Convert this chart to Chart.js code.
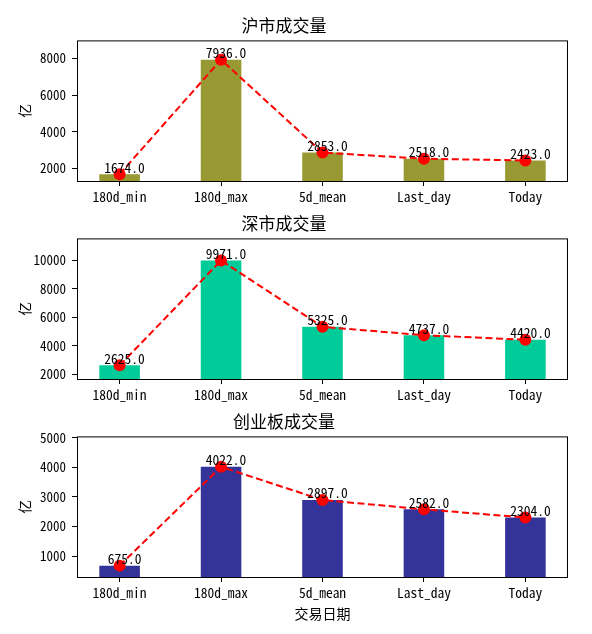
<!DOCTYPE html>
<html>
<head>
<meta charset="utf-8">
<script src="https://cdn.jsdelivr.net/npm/chart.js@4.4.1/dist/chart.umd.min.js"></script>
<style>
    html, body { margin: 0; padding: 0; background: #FFFFFF; }
    #wrap { position: relative; width: 592px; height: 634px; overflow: hidden; }
    .box { position: absolute; left: 0; width: 592px; }
</style>
</head>
<body>
<div id="wrap">
    <div class="box" style="top:0px;height:209px"><canvas id="c1"></canvas></div>
    <div class="box" style="top:198px;height:209px"><canvas id="c2"></canvas></div>
    <div class="box" style="top:396px;height:238px"><canvas id="c3"></canvas></div>
</div>
<script>
// Category labels (x axis)
const categories = ['180d_min', '180d_max', '5d_mean', 'Last_day', 'Today'];

// Volumes, 亿
const shVolume = [1674, 7936, 2853, 2518, 2423];
const szVolume = [2625, 9971, 5325, 4737, 4420];
const cybVolume = [675, 4022, 2897, 2582, 2304];

// Chart titles
const titles = ['沪市成交量', '深市成交量', '创业板成交量'];

// Y axis ranges and tick labels
const yMins = [1300, 1670, 290];
const yMaxs = [8990, 11520, 5050];
const shTicks = [2000, 4000, 6000, 8000];
const szTicks = [2000, 4000, 6000, 8000, 10000];
const cybTicks = [1000, 2000, 3000, 4000, 5000];
const yTicks = [shTicks, szTicks, cybTicks];

const MONO = "'Noto Sans Mono CJK SC', 'Noto Sans CJK SC', 'DejaVu Sans Mono', monospace";
const CJK = "'Noto Sans CJK SC', sans-serif";

const BAR_COLORS = ['#999933', '#00CC99', '#333399'];

// Full box around the plot, like matplotlib spines
const framePlugin = {
    id: 'frame',
    afterDraw(chart) {
        const { ctx, chartArea: a } = chart;
        ctx.save();
        ctx.strokeStyle = '#000000';
        ctx.lineWidth = 1;
        ctx.strokeRect(a.left + 0.5, a.top + 0.5, a.right - a.left - 1, a.bottom - a.top);
        ctx.restore();
    }
};

// Value labels above each point
const valueLabels = {
    id: 'valueLabels',
    afterDatasetsDraw(chart) {
        const { ctx, scales } = chart;
        const ds = chart.data.datasets[0];
        ctx.save();
        ctx.font = '13.5px ' + MONO;
        ctx.fillStyle = '#000000';
        ctx.textAlign = 'center';
        ctx.textBaseline = 'bottom';
        ds.data.forEach(p => {
            const x = scales.x.getPixelForValue(p.x) + 5;
            const y = scales.y.getPixelForValue(p.y);
            ctx.fillText(p.y.toFixed(1), x, y);
        });
        ctx.restore();
    }
};

function createVolumeChart(canvas, values, idx, showXTitle) {
    const ctx = canvas.getContext('2d');
    const points = values.map((v, i) => ({ x: i, y: v }));

    return new Chart(ctx, {
        type: 'bar',
        data: {
            datasets: [{
                type: 'line',
                data: points,
                borderColor: '#FF0000',
                borderWidth: 2,
                borderDash: [7, 3.5],
                pointRadius: 6,
                pointBackgroundColor: '#FF0000',
                pointBorderWidth: 0,
                fill: false,
                tension: 0,
                order: 0
            }, {
                type: 'bar',
                data: points,
                backgroundColor: BAR_COLORS[idx],
                categoryPercentage: 1.0,
                barPercentage: 0.4,
                order: 1
            }]
        },
        options: {
            responsive: true,
            maintainAspectRatio: false,
            animation: false,
            events: [],
            layout: { padding: { left: 0, right: 24, top: 0, bottom: 0 } },
            plugins: {
                legend: { display: false },
                tooltip: { enabled: false },
                title: {
                    display: true,
                    text: titles[idx],
                    color: '#000000',
                    font: { family: CJK, size: 17, weight: 'normal', lineHeight: 1.2 },
                    padding: { top: 15, bottom: 5 }
                }
            },
            scales: {
                x: {
                    type: 'linear',
                    min: -0.42,
                    max: 4.42,
                    offset: false,
                    afterBuildTicks: axis => {
                        axis.ticks = categories.map((_, i) => ({ value: i }));
                    },
                    afterFit: axis => { axis.height = showXTitle ? 57 : 28; },
                    grid: {
                        offset: false,
                        drawOnChartArea: false,
                        drawTicks: true,
                        tickLength: 5,
                        color: '#000000'
                    },
                    border: { display: false },
                    ticks: {
                        color: '#000000',
                        padding: 3,
                        maxRotation: 0,
                        autoSkip: false,
                        font: { family: MONO, size: 13.5 },
                        callback: v => categories[v]
                    },
                    title: {
                        display: showXTitle,
                        text: '交易日期',
                        color: '#000000',
                        font: { family: CJK, size: 14, lineHeight: 1.2 },
                        padding: { top: 0, bottom: 12 }
                    }
                },
                y: {
                    min: yMins[idx],
                    max: yMaxs[idx],
                    afterBuildTicks: axis => {
                        axis.ticks = yTicks[idx].map(v => ({ value: v }));
                    },
                    afterFit: axis => { axis.width = 77; },
                    grid: {
                        drawOnChartArea: false,
                        drawTicks: true,
                        tickLength: 5,
                        color: '#000000'
                    },
                    border: { display: false },
                    ticks: {
                        color: '#000000',
                        padding: 6,
                        font: { family: MONO, size: 13 },
                        callback: v => String(v)
                    },
                    title: {
                        display: true,
                        text: '亿',
                        color: '#000000',
                        font: { family: CJK, size: 14, lineHeight: 1.2 },
                        padding: { top: 16, bottom: 0 }
                    }
                }
            }
        },
        plugins: [framePlugin, valueLabels]
    });
}

createVolumeChart(document.getElementById('c1'), shVolume, 0, false);
createVolumeChart(document.getElementById('c2'), szVolume, 1, false);
createVolumeChart(document.getElementById('c3'), cybVolume, 2, true);
</script>
</body>
</html>
